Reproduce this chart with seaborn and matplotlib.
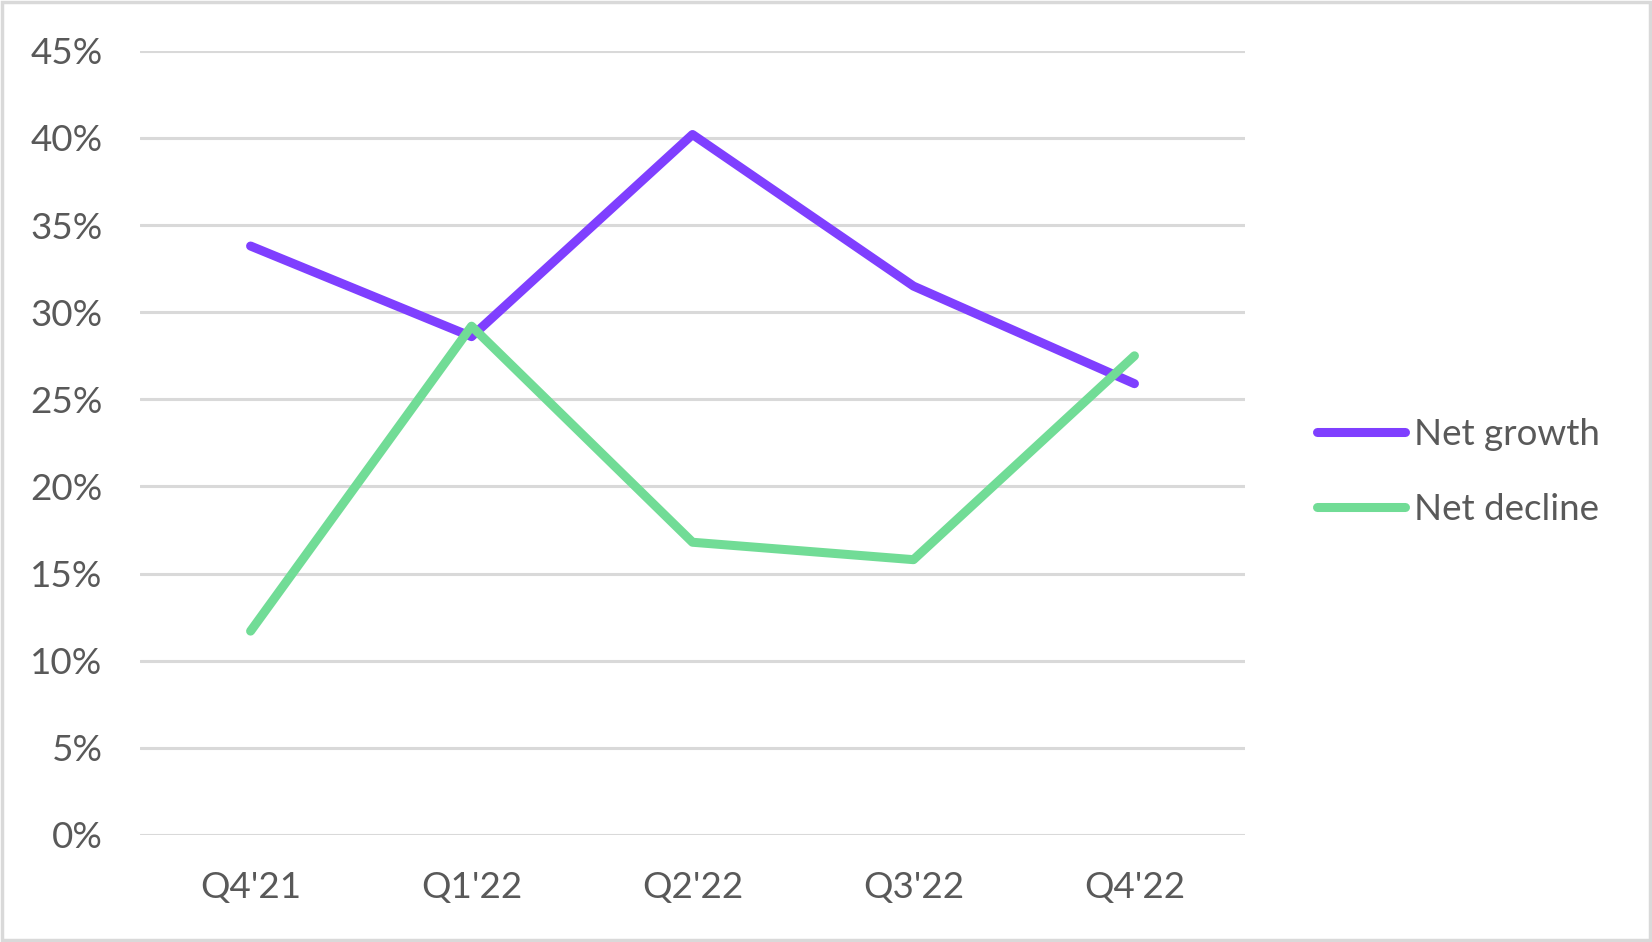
import matplotlib
matplotlib.use("Agg")
import matplotlib.pyplot as plt
from matplotlib.patches import Rectangle
from matplotlib.ticker import PercentFormatter
import seaborn as sns
import pandas as pd

# Valores
quarters = ["Q4'21", "Q1'22", "Q2'22", "Q3'22", "Q4'22"]
net_growth = [0.338, 0.286, 0.402, 0.315, 0.259]
net_decline = [0.117, 0.292, 0.168, 0.158, 0.275]
series_names = ["Net growth", "Net decline"]
colors = ["#7F3FFF", "#71DC96"]

df = pd.DataFrame({
    "quarter": quarters * 2,
    "value": net_growth + net_decline,
    "series": [series_names[0]] * len(quarters) + [series_names[1]] * len(quarters),
})

sns.set_style("white")
plt.rcParams["font.family"] = ["Lato", "DejaVu Sans"]
text_color = "#595959"

fig = plt.figure(figsize=(16.52, 9.42), dpi=100)
ax = fig.add_axes([0.0848, 0.1136, 0.6688, 0.8324])

sns.lineplot(data=df, x="quarter", y="value", hue="series", palette=colors,
             linewidth=6.5, sort=False, ax=ax, legend=False,
             solid_capstyle="round")

ax.set_xlim(-0.5, len(quarters) - 0.5)
ax.set_ylim(0, 0.45)
ax.set_yticks([i * 0.05 for i in range(10)])
ax.yaxis.set_major_formatter(PercentFormatter(1.0, decimals=0))
ax.grid(axis="y", color="#D9D9D9", linewidth=2.2)
ax.set_axisbelow(True)
for s in ax.spines.values():
    s.set_visible(False)
ax.tick_params(axis="both", length=0, labelsize=26.5, colors=text_color)
ax.tick_params(axis="y", pad=27)
ax.tick_params(axis="x", pad=26)
ax.set_xlabel("")
ax.set_ylabel("")

handles = [plt.Line2D([], [], color=c, linewidth=6.5, solid_capstyle="round") for c in colors]
leg = fig.legend(handles, series_names, loc="center left",
                 bbox_to_anchor=(0.777, 0.499), frameon=False,
                 fontsize=26.5, handlelength=2.4, handletextpad=0.25,
                 labelspacing=1.15)
for t in leg.get_texts():
    t.set_color(text_color)

fig.patches.append(Rectangle((0.001, 0.002), 0.998, 0.996, transform=fig.transFigure,
                             fill=False, edgecolor="#D9D9D9", linewidth=2.5))

fig.savefig("out.png", dpi=100)
